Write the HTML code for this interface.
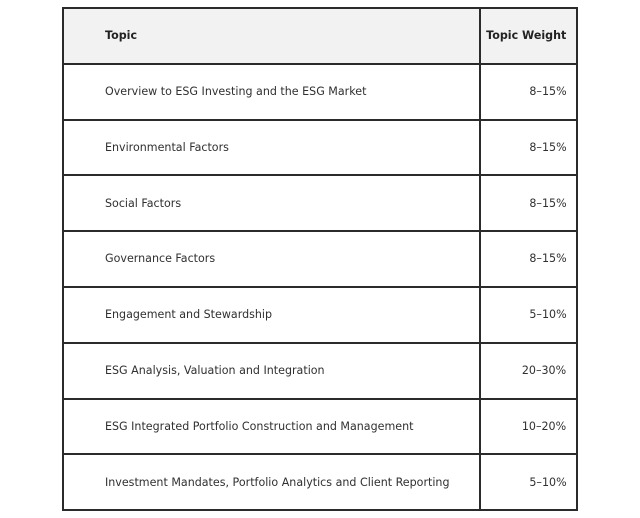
<!DOCTYPE html>
<html>
<head>
<meta charset="utf-8">
<style>
  html, body { margin: 0; padding: 0; background: #ffffff; }
  body { width: 640px; height: 518px; position: relative; overflow: hidden;
         font-family: "DejaVu Sans", "Liberation Sans", sans-serif; color: #303030; }
  .hdr { position: absolute; left: 64px; top: 9px; width: 512px; height: 55px; background: #f2f2f2; }
  .hl { position: absolute; left: 62px; width: 516px; height: 2px; background: #2b2b2b; }
  .vl { position: absolute; top: 7px; width: 2px; height: 504px; background: #2b2b2b; }
  .row { position: absolute; left: 64px; width: 512px; height: 56px; margin-top: -0.7px; }
  .t, .w { position: absolute; top: 0; height: 56px; display: flex; align-items: center;
           font-size: 11.8px; line-height: 14px; white-space: nowrap; }
  .t { left: 41px; }
  .t span { display: inline-block; transform: scaleX(0.94); transform-origin: left center; }
  .w { right: 9.5px; justify-content: flex-end; }
  .w span { display: inline-block; transform: scaleX(0.94); transform-origin: right center; }
  .b { font-weight: bold; color: #222222; }
</style>
</head>
<body>
  <div class="hdr"></div>
  <div class="vl" style="left:62px"></div>
  <div class="vl" style="left:479px"></div>
  <div class="vl" style="left:576px"></div>
  <div class="hl" style="top:7px"></div>
  <div class="hl" style="top:63px"></div>
  <div class="hl" style="top:119px"></div>
  <div class="hl" style="top:174px"></div>
  <div class="hl" style="top:230px"></div>
  <div class="hl" style="top:286px"></div>
  <div class="hl" style="top:342px"></div>
  <div class="hl" style="top:398px"></div>
  <div class="hl" style="top:453px"></div>
  <div class="hl" style="top:509px"></div>

  <div class="row" style="top:8px">
    <div class="t b"><span>Topic</span></div>
    <div class="w b"><span>Topic Weight</span></div>
  </div>
  <div class="row" style="top:64px">
    <div class="t"><span>Overview to ESG Investing and the ESG Market</span></div>
    <div class="w"><span>8–15%</span></div>
  </div>
  <div class="row" style="top:119.5px">
    <div class="t"><span>Environmental Factors</span></div>
    <div class="w"><span>8–15%</span></div>
  </div>
  <div class="row" style="top:175.3px">
    <div class="t"><span>Social Factors</span></div>
    <div class="w"><span>8–15%</span></div>
  </div>
  <div class="row" style="top:231px">
    <div class="t"><span>Governance Factors</span></div>
    <div class="w"><span>8–15%</span></div>
  </div>
  <div class="row" style="top:287px">
    <div class="t"><span>Engagement and Stewardship</span></div>
    <div class="w"><span>5–10%</span></div>
  </div>
  <div class="row" style="top:342.8px">
    <div class="t"><span>ESG Analysis, Valuation and Integration</span></div>
    <div class="w"><span>20–30%</span></div>
  </div>
  <div class="row" style="top:398.6px">
    <div class="t"><span>ESG Integrated Portfolio Construction and Management</span></div>
    <div class="w"><span>10–20%</span></div>
  </div>
  <div class="row" style="top:454.3px">
    <div class="t"><span>Investment Mandates, Portfolio Analytics and Client Reporting</span></div>
    <div class="w"><span>5–10%</span></div>
  </div>
</body>
</html>
